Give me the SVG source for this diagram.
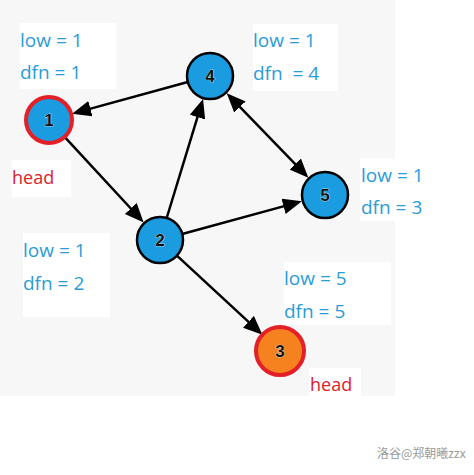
<svg xmlns="http://www.w3.org/2000/svg" width="474" height="475" viewBox="0 0 474 475">
<style>
.lbl{font-family:"Open Sans","Noto Sans",sans-serif;font-size:19px;fill:#2a9cd8}
.head{font-family:"Open Sans","Noto Sans",sans-serif;font-size:18px;fill:#e0202c}
.box{fill:#ffffff}
.node{fill:#1b9be0;stroke:#000;stroke-width:2.5}
.nodeh{stroke:#e32028;stroke-width:4}
.num{font-family:"Liberation Sans",Arial,sans-serif;font-size:17px;font-weight:bold;fill:#111;text-anchor:middle;dominant-baseline:central;stroke:#fff;stroke-width:0.6;paint-order:stroke}
.edge{stroke:#000;stroke-width:2.5;fill:none}
</style>
<defs>
<marker id="ah" markerUnits="userSpaceOnUse" markerWidth="22" markerHeight="18" refX="13" refY="8" orient="auto-start-reverse">
<path d="M0,0 L19,8 L0,16 z" fill="#000"/>
</marker>
</defs>
<rect x="0" y="0" width="395" height="396" fill="#f7f7f7"/>
<g id="labels">
<rect class="box" x="20" y="23" width="96" height="66"/>
<text class="lbl" x="20" y="47">low = 1</text>
<text class="lbl" x="20" y="79">dfn = 1</text>
<rect class="box" x="253" y="24" width="85" height="67"/>
<text class="lbl" x="253" y="47">low = 1</text>
<text class="lbl" x="253" y="80" xml:space="preserve">dfn  = 4</text>
<rect class="box" x="360" y="158" width="80" height="63"/>
<text class="lbl" x="361" y="182">low = 1</text>
<text class="lbl" x="361" y="214">dfn = 3</text>
<rect class="box" x="23" y="233" width="87" height="84"/>
<text class="lbl" x="23" y="257">low = 1</text>
<text class="lbl" x="23" y="290">dfn = 2</text>
<rect class="box" x="284" y="262" width="107" height="63"/>
<text class="lbl" x="284" y="285">low = 5</text>
<text class="lbl" x="284" y="318">dfn = 5</text>
<rect class="box" x="12" y="160" width="59" height="37"/>
<text class="head" x="12" y="184">head</text>
<rect class="box" x="309" y="368" width="52" height="28"/>
<text class="head" x="310" y="391">head</text>
</g>
<g id="connectors">
<line class="edge" x1="187.8" y1="82.0" x2="77.9" y2="112.1" marker-end="url(#ah)"/>
<line class="edge" x1="65.3" y1="137.6" x2="139.6" y2="218.0" marker-end="url(#ah)"/>
<line class="edge" x1="166.7" y1="218.0" x2="201.3" y2="104.7" marker-end="url(#ah)"/>
<line class="edge" x1="182.2" y1="234.0" x2="296.1" y2="202.9" marker-end="url(#ah)"/>
<line class="edge" x1="230.9" y1="97.6" x2="304.2" y2="173.4" marker-start="url(#ah)" marker-end="url(#ah)"/>
<line class="edge" x1="176.9" y1="255.6" x2="258.0" y2="330.6" marker-end="url(#ah)"/>
</g>
<g id="node1">
<circle class="node nodeh" cx="49" cy="120" r="23"/>
<text class="num" x="49" y="120">1</text>
</g>
<g id="node4">
<circle class="node" cx="210" cy="76" r="23"/>
<text class="num" x="210" y="76">4</text>
</g>
<g id="node2">
<circle class="node" cx="160" cy="240" r="23"/>
<text class="num" x="160" y="240">2</text>
</g>
<g id="node5">
<circle class="node" cx="325" cy="195" r="23"/>
<text class="num" x="325" y="195">5</text>
</g>
<g id="node3">
<circle class="node nodeh" cx="280" cy="351" r="24" style="fill:#f5821f"/>
<text class="num" x="280" y="351">3</text>
</g>
<text x="377" y="458" style="font-family:'Noto Sans CJK SC',sans-serif;font-size:12px;fill:#9a9a9a">洛谷@郑朝曦zzx</text>
</svg>
